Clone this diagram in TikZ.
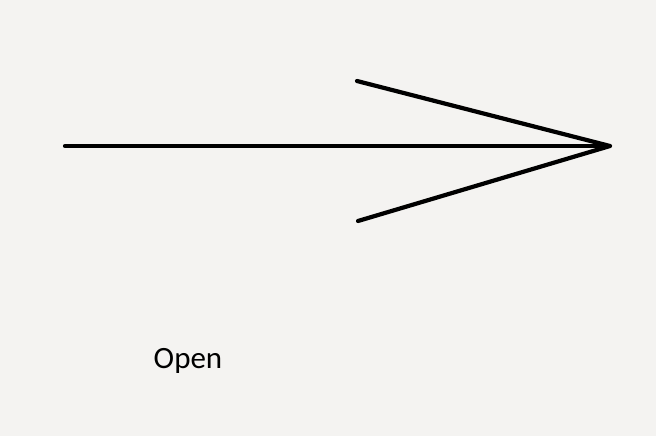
\documentclass[tikz,border=0pt]{standalone}
\usepackage{fontspec}
\setmainfont{Carlito}
\definecolor{bg}{HTML}{F4F3F1}
\begin{document}
\begin{tikzpicture}[x=1pt,y=-1pt,ln/.style={line width=4.2pt,line cap=round,line join=round}]
\fill[bg] (0,0) rectangle (656,436);
\useasboundingbox (0,0) rectangle (656,436);
\coordinate (s) at (65,146);
\coordinate (tip) at (610,146);
\coordinate (u) at (357,81);
\coordinate (d) at (358,221);
\draw[ln] (s) -- (tip);
\draw[ln] (u) -- (tip) -- (d);
\node[font=\fontsize{31}{36}\selectfont] (t) at (188,361) {Open};
\end{tikzpicture}
\end{document}
